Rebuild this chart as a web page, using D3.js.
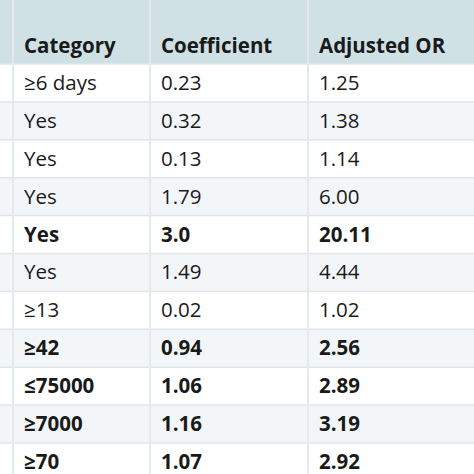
<!DOCTYPE html>
<html>
<head>
<meta charset="utf-8">
<script src="https://cdn.jsdelivr.net/npm/d3@7"></script>
<style>
  body { margin: 0; background: #fff; overflow: hidden; }
  text { font-family: "Open Sans", "Noto Sans", sans-serif; font-size: 20.5px; fill: #1a1a1a; }
</style>
</head>
<body>
<svg id="chart" width="474" height="474"></svg>
<script>
var headers = ["Category", "Coefficient", "Adjusted OR"];
var categories = ["\u22656 days", "Yes", "Yes", "Yes", "Yes", "Yes", "\u226513", "\u226542", "\u226475000", "\u22657000", "\u226570"];
var coefficients = ["0.23", "0.32", "0.13", "1.79", "3.0", "1.49", "0.02", "0.94", "1.06", "1.16", "1.07"];
var adjustedOR = ["1.25", "1.38", "1.14", "6.00", "20.11", "4.44", "1.02", "2.56", "2.89", "3.19", "2.92"];
var boldRows = [false, false, false, false, true, false, false, true, true, true, true];

var svg = d3.select("#chart");
var colX = [13, 150, 308, 474];
var headerH = 64;

var y = d3.scaleBand()
  .domain(d3.range(categories.length))
  .range([headerH, headerH + 37.9 * categories.length]);

// header band
svg.append("rect").attr("x", 0).attr("y", 0).attr("width", 474).attr("height", headerH).attr("fill", "#cfe1e5");

// row backgrounds
svg.selectAll("rect.row")
  .data(d3.range(categories.length))
  .enter().append("rect")
  .attr("class", "row")
  .attr("x", 0).attr("width", 474)
  .attr("y", function(d) { return y(d); })
  .attr("height", y.bandwidth())
  .attr("fill", function(d) { return d % 2 === 1 ? "#f3f6f8" : "#ffffff"; });

// horizontal lines
svg.selectAll("line.h")
  .data(d3.range(categories.length))
  .enter().append("line")
  .attr("x1", 0).attr("x2", 474)
  .attr("y1", function(d) { return y(d); })
  .attr("y2", function(d) { return y(d); })
  .attr("stroke", "#dfe6ea").attr("stroke-width", 1.5);

// vertical lines
svg.selectAll("line.v")
  .data(colX.slice(0, 3))
  .enter().append("line")
  .attr("x1", function(d) { return d; }).attr("x2", function(d) { return d; })
  .attr("y1", 0).attr("y2", 474)
  .attr("stroke", "#e3eaed").attr("stroke-width", 2);

// headers
svg.selectAll("text.head")
  .data(headers)
  .enter().append("text")
  .attr("x", function(d, i) { return colX[i] + 11; })
  .attr("y", 53)
  .attr("font-weight", "bold")
  .text(function(d) { return d; });

var columns = [categories, coefficients, adjustedOR];
columns.forEach(function(col, ci) {
  svg.selectAll("text.c" + ci)
    .data(col)
    .enter().append("text")
    .attr("x", colX[ci] + 11)
    .attr("y", function(d, i) { return y(i) + y.bandwidth() / 2 + 7; })
    .attr("font-weight", function(d, i) { return boldRows[i] ? "bold" : "normal"; })
    .text(function(d) { return d; });
});
</script>
</body>
</html>
